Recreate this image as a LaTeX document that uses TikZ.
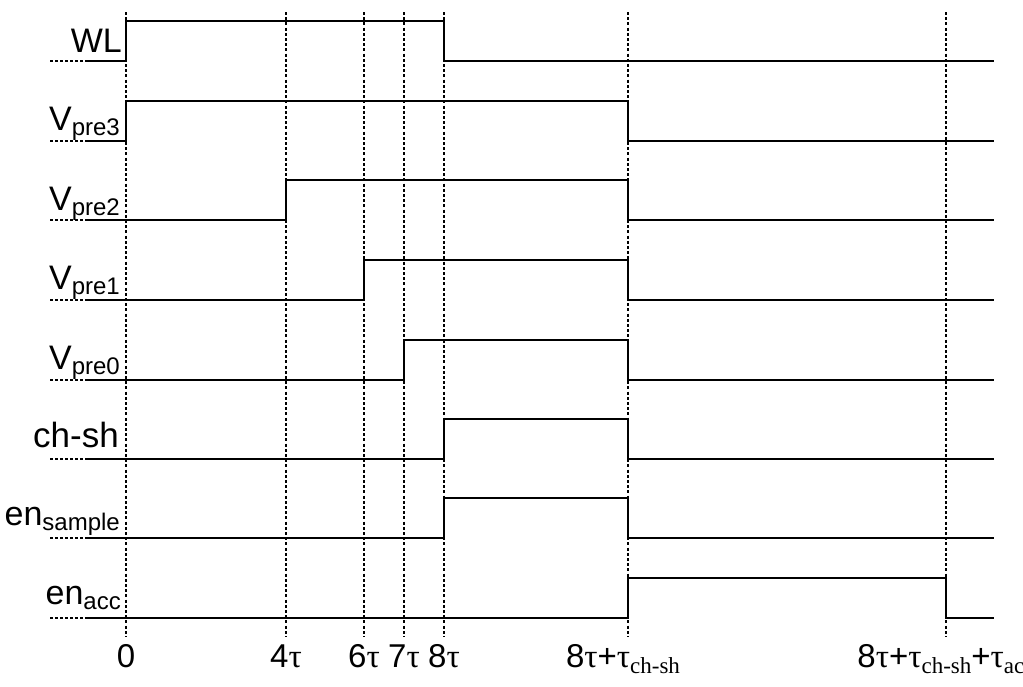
\documentclass[tikz,border=0pt]{standalone}
\usepackage{fontspec}
\setmainfont{Liberation Sans}
\newfontfamily\tmsfont{Liberation Serif}
\newcommand{\bigf}{\fontsize{34}{34}\selectfont}
\newcommand{\subf}{\fontsize{24}{24}\selectfont}
\newcommand{\tkf}{\fontsize{33}{33}\selectfont}
\newcommand{\tksubf}{\fontsize{23}{23}\selectfont}
\newcommand{\lsub}[1]{\raisebox{-5pt}{\subf #1}}
\newcommand{\tsub}[1]{\raisebox{-6pt}{\tksubf\tmsfont #1}}
\newcommand{\tauc}{{\tmsfont τ}}
\begin{document}
\begin{tikzpicture}[x=1pt,y=-1pt,
  sigline/.style={line width=2pt, line join=miter},
  stub/.style={line width=2pt, dash pattern=on 3pt off 2pt},
  grid/.style={line width=2pt, dash pattern=on 3pt off 2.2pt},
  lab/.style={anchor=base east, inner sep=0pt, font=\bigf},
  tick/.style={anchor=base, inner sep=0pt, font=\tkf}]
\useasboundingbox (0,0) rectangle (1023,686);
% vertical dotted lines
\foreach \x in {126,286,364,404,444,628,946}
  \draw[grid] (\x,12) -- (\x,637);
% signals: low y, rise x, fall x
\newcommand{\sig}[3]{%
  \draw[stub] (50,#1) -- (88,#1);
  \draw[sigline] (88,#1) -- (#2,#1) -- (#2,#1-40) -- (#3,#1-40) -- (#3,#1) -- (994,#1);}
\sig{61}{126}{444}
\sig{141}{126}{628}
\sig{220}{286}{628}
\sig{300}{364}{628}
\sig{380}{404}{628}
\sig{459}{444}{628}
\sig{538}{444}{628}
\sig{618}{628}{946}
% labels
\node[lab] (lwl) at (122,52) {WL};
\node[lab] (lv3) at (120,130) {V\lsub{pre3}};
\node[lab] (lv2) at (120,210) {V\lsub{pre2}};
\node[lab] (lv1) at (120,289) {V\lsub{pre1}};
\node[lab] (lv0) at (120,369) {V\lsub{pre0}};
\node[lab, font=\fontsize{35}{35}\selectfont] (lch) at (119,447) {ch-sh};
\node[lab] (les) at (120,525) {en\lsub{sample}};
\node[lab] (lea) at (121,604) {en\lsub{acc}};
% ticks
\node[tick] (t0) at (126,667) {0};
\node[tick] (t4) at (286,667) {4\tauc};
\node[tick] (t6) at (364,667) {6\tauc};
\node[tick] (t7) at (404,667) {7\tauc};
\node[tick] (t8) at (444,667) {8\tauc};
\node[tick] (tc) at (623,667) {8\tauc+\tauc\tsub{ch-sh}};
\node[tick] (ta) at (946,667) {8\tauc+\tauc\tsub{ch-sh}+\tauc\tsub{acc}};
\end{tikzpicture}
\end{document}
